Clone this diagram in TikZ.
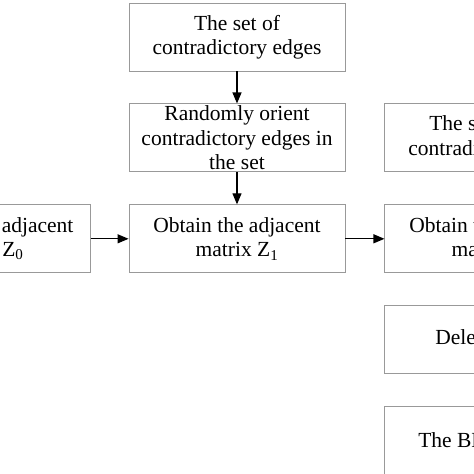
\documentclass[tikz,border=0pt]{standalone}
\usepackage{fontspec}
\setmainfont{Liberation Serif}
\usetikzlibrary{positioning}
\usetikzlibrary{arrows.meta}

\begin{document}
\begin{tikzpicture}[x=1pt,y=1pt,
  box/.style={draw=gray!80,line width=0.9pt,rectangle,minimum width=216pt,minimum height=68pt,
    inner xsep=2pt,inner ysep=0pt,align=center,font=\fontsize{21.5}{24.5}\selectfont},
  arr/.style={line width=1.1pt,-{Triangle[length=11pt,width=9pt]}}]
\useasboundingbox (0,0) rectangle (474,-474);
\clip (0,0) rectangle (474,-474);
\node[box](set) at (237,-37){The set of\\contradictory edges};
\node[box, below = 32pt of set](orient){Randomly orient\\contradictory edges in\\the set};
\node[box, below = 32pt of orient](z1){Obtain the adjacent\\matrix Z\textsubscript{1}};
\node[box, left = 38pt of z1](z0){The original adjacent\\matrix Z\textsubscript{0}};
\node[box, right = 39pt of z1](z2){Obtain the adjacent\\matrix Z\textsubscript{2}};
\node[box, above = 32pt of z2](newset){The set of new\\contradictory edges};
\node[box, below = 32pt of z2](del){Delete cycles};
\node[box, below = 32pt of del](bn){The BN structure};
\path (set) edge[arr] (orient);
\path (orient) edge[arr] (z1);
\path (z0) edge[arr] (z1);
\path (z1) edge[arr] (z2);
\end{tikzpicture}
\end{document}
